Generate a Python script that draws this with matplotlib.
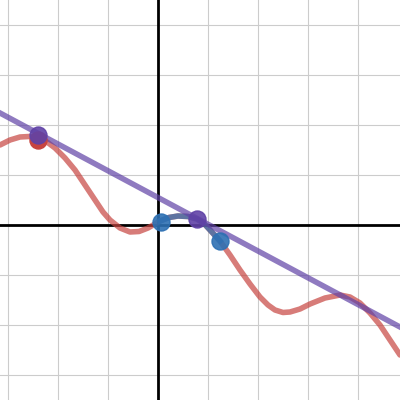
import matplotlib
matplotlib.use("Agg")
import matplotlib.pyplot as plt
import numpy as np

curve_x = [-3.16,-2.96,-2.76,-2.58,-2.4,-2.22,-2.06,-1.86,-1.66,-1.46,-1.26,-1.1,-0.96,-0.76,-0.56,-0.38,-0.2,0.04,0.22,0.4,0.6,0.78,0.92,1.04,1.24,1.44,1.64,1.84,2.04,2.2,2.34,2.5,2.64,2.84,3.04,3.34,3.64,3.84,4.04,4.24,4.44,4.64,4.84]
curve_y = [1.6,1.7,1.76,1.77,1.74,1.66,1.54,1.34,1.1,0.8,0.5,0.26,0.1,-0.06,-0.14,-0.13,-0.06,0.08,0.15,0.18,0.17,0.12,0.03,-0.1,-0.32,-0.6,-0.9,-1.18,-1.44,-1.6,-1.7,-1.75,-1.74,-1.68,-1.58,-1.46,-1.4,-1.44,-1.56,-1.76,-2.0,-2.3,-2.6]
blue_x = [0.04,0.22,0.4,0.6,0.78,0.92,1.04,1.24]
blue_y = [0.08,0.15,0.18,0.17,0.12,0.03,-0.1,-0.32]
line_x = [-3.16,4.84]
line_y = [2.24,-2.04]
purple_pts_x = [-2.4,0.78]
purple_pts_y = [1.8,0.12]
blue_pts_x = [0.06,1.24]
blue_pts_y = [0.06,-0.32]
red_pts_x = [-2.4]
red_pts_y = [1.7]

fig = plt.figure(figsize=(4,4), dpi=100)
ax = fig.add_axes([0,0,1,1])
ax.set_xlim(-3.16,4.84); ax.set_ylim(-3.5,4.5)
for g in np.arange(-3,5):
    ax.axvline(g, color='#cccccc', lw=0.8, zorder=0)
    ax.axhline(g, color='#cccccc', lw=0.8, zorder=0)
ax.axvline(0, color='black', lw=2, zorder=1)
ax.axhline(0, color='black', lw=2, zorder=1)
ax.plot(curve_x, curve_y, color='#c74440', alpha=0.7, lw=4, zorder=2, solid_capstyle='round')
ax.plot(blue_x, blue_y, color='#2d70b3', alpha=0.7, lw=4, zorder=3)
ax.plot(line_x, line_y, color='#6042a6', alpha=0.7, lw=4, zorder=4)
ax.scatter(red_pts_x, red_pts_y, s=150, color='#c74440', zorder=5)
ax.scatter(blue_pts_x, blue_pts_y, s=150, color='#2d70b3', alpha=0.9, zorder=5)
ax.scatter(purple_pts_x, purple_pts_y, s=150, color='#6042a6', alpha=0.9, zorder=6)
ax.set_xticks([]); ax.set_yticks([])
for s in ax.spines.values(): s.set_visible(False)
fig.savefig('out.png', dpi=100)
